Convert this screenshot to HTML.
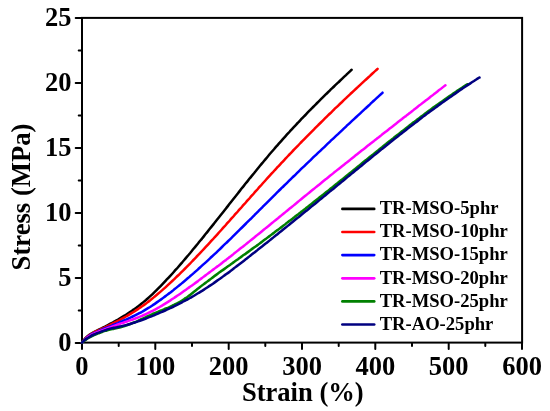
<!DOCTYPE html>
<html><head><meta charset="utf-8"><style>
html,body{margin:0;padding:0;background:#fff;width:550px;height:411px;overflow:hidden}
svg{display:block}
text{font-family:"Liberation Serif","Times New Roman",serif;font-weight:bold;fill:#000}
</style></head><body>
<svg width="550" height="411" viewBox="0 0 550 411">
<rect x="82.0" y="17.9" width="440.1" height="324.7" fill="none" stroke="#000" stroke-width="2"/>
<path d="M82.0,343.6v5.3 M118.7,343.6v2.3 M155.3,343.6v5.3 M192.0,343.6v2.3 M228.7,343.6v5.3 M265.3,343.6v2.3 M302.0,343.6v5.3 M338.7,343.6v2.3 M375.3,343.6v5.3 M412.0,343.6v2.3 M448.7,343.6v5.3 M485.3,343.6v2.3 M522.0,343.6v5.3 M81.0,343.0h-5.3 M81.0,310.5h-2.3 M81.0,278.0h-5.3 M81.0,245.5h-2.3 M81.0,213.0h-5.3 M81.0,180.5h-2.3 M81.0,148.0h-5.3 M81.0,115.5h-2.3 M81.0,83.0h-5.3 M81.0,50.5h-2.3 M81.0,18.0h-5.3" stroke="#000" stroke-width="2" stroke-linecap="round" fill="none"/>
<path d="M82.0,342.5 C82.7,341.7 84.7,339.1 86.0,337.7 C87.3,336.4 88.7,335.3 90.0,334.4 C91.3,333.4 92.7,332.7 94.0,332.0 C95.3,331.2 96.7,330.6 98.0,330.0 C99.3,329.3 100.7,328.7 102.0,328.1 C103.3,327.4 104.7,326.8 106.0,326.1 C107.3,325.4 108.7,324.7 110.0,323.9 C111.3,323.2 112.7,322.5 114.0,321.7 C115.3,321.0 116.7,320.2 118.0,319.5 C119.3,318.7 120.7,317.9 122.0,317.1 C123.3,316.3 124.7,315.5 126.0,314.7 C127.3,313.9 128.7,313.0 130.0,312.1 C131.3,311.2 132.7,310.3 134.0,309.4 C135.3,308.4 136.7,307.5 138.0,306.5 C139.3,305.5 140.7,304.4 142.0,303.3 C143.3,302.2 144.7,301.1 146.0,300.0 C147.3,298.8 148.7,297.6 150.0,296.4 C151.3,295.2 152.7,293.9 154.0,292.6 C155.3,291.4 156.7,290.1 158.0,288.7 C159.3,287.4 160.7,286.0 162.0,284.6 C163.3,283.3 164.7,281.9 166.0,280.4 C167.3,279.0 168.7,277.6 170.0,276.1 C171.3,274.7 172.7,273.2 174.0,271.7 C175.3,270.2 176.7,268.7 178.0,267.2 C179.3,265.7 180.7,264.1 182.0,262.6 C183.3,261.0 184.7,259.5 186.0,257.9 C187.3,256.3 188.7,254.7 190.0,253.2 C191.3,251.6 192.7,250.0 194.0,248.3 C195.3,246.7 196.7,245.1 198.0,243.5 C199.3,241.8 200.7,240.2 202.0,238.6 C203.3,236.9 204.7,235.3 206.0,233.6 C207.3,231.9 208.7,230.3 210.0,228.6 C211.3,226.9 212.7,225.2 214.0,223.6 C215.3,221.9 216.7,220.2 218.0,218.5 C219.3,216.8 220.7,215.2 222.0,213.5 C223.3,211.8 224.7,210.1 226.0,208.4 C227.3,206.7 228.7,205.0 230.0,203.3 C231.3,201.6 232.7,199.9 234.0,198.2 C235.3,196.5 236.7,194.9 238.0,193.2 C239.3,191.5 240.7,189.8 242.0,188.1 C243.3,186.4 244.7,184.8 246.0,183.1 C247.3,181.4 248.7,179.8 250.0,178.1 C251.3,176.5 252.7,174.8 254.0,173.2 C255.3,171.5 256.7,169.9 258.0,168.2 C259.3,166.6 260.7,165.0 262.0,163.4 C263.3,161.8 264.7,160.2 266.0,158.6 C267.3,157.0 268.7,155.4 270.0,153.8 C271.3,152.3 272.7,150.7 274.0,149.2 C275.3,147.6 276.7,146.1 278.0,144.6 C279.3,143.1 280.7,141.6 282.0,140.1 C283.3,138.6 284.7,137.1 286.0,135.6 C287.3,134.1 288.7,132.7 290.0,131.2 C291.3,129.8 292.7,128.3 294.0,126.9 C295.3,125.5 296.7,124.1 298.0,122.7 C299.3,121.2 300.7,119.8 302.0,118.4 C303.3,117.0 304.7,115.7 306.0,114.3 C307.3,112.9 308.7,111.5 310.0,110.2 C311.3,108.8 312.7,107.5 314.0,106.1 C315.3,104.8 316.7,103.5 318.0,102.1 C319.3,100.8 320.7,99.5 322.0,98.2 C323.3,96.9 324.7,95.5 326.0,94.2 C327.3,92.9 328.7,91.6 330.0,90.3 C331.3,89.0 332.7,87.8 334.0,86.5 C335.3,85.2 336.7,83.9 338.0,82.7 C339.3,81.4 340.7,80.1 342.0,78.8 C343.3,77.6 344.7,76.3 346.0,75.1 C347.3,73.8 349.1,72.2 350.0,71.3 C350.9,70.4 351.3,70.0 351.6,69.8" fill="none" stroke="#000000" stroke-width="2.5" stroke-linejoin="round" stroke-linecap="round"/>
<path d="M82.0,342.5 C82.7,341.7 84.7,339.3 86.0,338.0 C87.3,336.7 88.7,335.7 90.0,334.7 C91.3,333.8 92.7,333.1 94.0,332.4 C95.3,331.7 96.7,331.1 98.0,330.5 C99.3,329.9 100.7,329.3 102.0,328.7 C103.3,328.1 104.7,327.5 106.0,326.9 C107.3,326.2 108.7,325.6 110.0,324.9 C111.3,324.3 112.7,323.6 114.0,322.9 C115.3,322.2 116.7,321.6 118.0,320.9 C119.3,320.2 120.7,319.4 122.0,318.7 C123.3,318.0 124.7,317.2 126.0,316.5 C127.3,315.7 128.7,314.9 130.0,314.1 C131.3,313.3 132.7,312.5 134.0,311.7 C135.3,310.8 136.7,310.0 138.0,309.1 C139.3,308.2 140.7,307.3 142.0,306.3 C143.3,305.4 144.7,304.4 146.0,303.4 C147.3,302.4 148.7,301.4 150.0,300.4 C151.3,299.3 152.7,298.2 154.0,297.1 C155.3,296.0 156.7,294.9 158.0,293.8 C159.3,292.7 160.7,291.5 162.0,290.4 C163.3,289.2 164.7,288.0 166.0,286.8 C167.3,285.6 168.7,284.4 170.0,283.1 C171.3,281.9 172.7,280.6 174.0,279.4 C175.3,278.1 176.7,276.8 178.0,275.5 C179.3,274.2 180.7,272.9 182.0,271.6 C183.3,270.3 184.7,269.0 186.0,267.6 C187.3,266.3 188.7,264.9 190.0,263.6 C191.3,262.2 192.7,260.8 194.0,259.4 C195.3,258.0 196.7,256.6 198.0,255.2 C199.3,253.8 200.7,252.4 202.0,251.0 C203.3,249.6 204.7,248.1 206.0,246.7 C207.3,245.3 208.7,243.8 210.0,242.4 C211.3,240.9 212.7,239.5 214.0,238.0 C215.3,236.5 216.7,235.1 218.0,233.6 C219.3,232.1 220.7,230.6 222.0,229.2 C223.3,227.7 224.7,226.2 226.0,224.7 C227.3,223.2 228.7,221.7 230.0,220.2 C231.3,218.7 232.7,217.2 234.0,215.7 C235.3,214.2 236.7,212.7 238.0,211.2 C239.3,209.7 240.7,208.2 242.0,206.7 C243.3,205.2 244.7,203.7 246.0,202.2 C247.3,200.7 248.7,199.2 250.0,197.7 C251.3,196.2 252.7,194.7 254.0,193.2 C255.3,191.7 256.7,190.2 258.0,188.7 C259.3,187.2 260.7,185.7 262.0,184.2 C263.3,182.7 264.7,181.3 266.0,179.8 C267.3,178.3 268.7,176.8 270.0,175.4 C271.3,173.9 272.7,172.5 274.0,171.0 C275.3,169.5 276.7,168.1 278.0,166.7 C279.3,165.2 280.7,163.8 282.0,162.4 C283.3,160.9 284.7,159.5 286.0,158.1 C287.3,156.7 288.7,155.3 290.0,153.9 C291.3,152.5 292.7,151.1 294.0,149.7 C295.3,148.3 296.7,146.9 298.0,145.6 C299.3,144.2 300.7,142.8 302.0,141.4 C303.3,140.1 304.7,138.7 306.0,137.3 C307.3,136.0 308.7,134.6 310.0,133.3 C311.3,132.0 312.7,130.6 314.0,129.3 C315.3,127.9 316.7,126.6 318.0,125.3 C319.3,124.0 320.7,122.7 322.0,121.3 C323.3,120.0 324.7,118.7 326.0,117.4 C327.3,116.1 328.7,114.8 330.0,113.5 C331.3,112.2 332.7,110.9 334.0,109.6 C335.3,108.3 336.7,107.1 338.0,105.8 C339.3,104.5 340.7,103.2 342.0,102.0 C343.3,100.7 344.7,99.4 346.0,98.2 C347.3,96.9 348.7,95.6 350.0,94.4 C351.3,93.1 352.7,91.9 354.0,90.6 C355.3,89.4 356.7,88.1 358.0,86.9 C359.3,85.6 360.7,84.4 362.0,83.2 C363.3,81.9 364.7,80.7 366.0,79.5 C367.3,78.2 368.7,77.0 370.0,75.8 C371.3,74.5 372.7,73.3 374.0,72.1 C375.3,70.9 377.0,69.4 377.6,68.8" fill="none" stroke="#ff0000" stroke-width="2.5" stroke-linejoin="round" stroke-linecap="round"/>
<path d="M82.0,342.5 C82.7,341.8 84.7,339.6 86.0,338.4 C87.3,337.2 88.7,336.2 90.0,335.4 C91.3,334.5 92.7,333.8 94.0,333.1 C95.3,332.4 96.7,331.8 98.0,331.3 C99.3,330.7 100.7,330.2 102.0,329.6 C103.3,329.1 104.7,328.6 106.0,328.0 C107.3,327.5 108.7,326.9 110.0,326.4 C111.3,325.8 112.7,325.3 114.0,324.7 C115.3,324.2 116.7,323.6 118.0,323.1 C119.3,322.5 120.7,322.0 122.0,321.4 C123.3,320.8 124.7,320.2 126.0,319.6 C127.3,319.1 128.7,318.5 130.0,317.8 C131.3,317.2 132.7,316.6 134.0,315.9 C135.3,315.3 136.7,314.6 138.0,313.9 C139.3,313.2 140.7,312.5 142.0,311.8 C143.3,311.0 144.7,310.2 146.0,309.4 C147.3,308.6 148.7,307.8 150.0,307.0 C151.3,306.1 152.7,305.3 154.0,304.4 C155.3,303.5 156.7,302.6 158.0,301.6 C159.3,300.7 160.7,299.8 162.0,298.8 C163.3,297.8 164.7,296.8 166.0,295.8 C167.3,294.8 168.7,293.8 170.0,292.8 C171.3,291.7 172.7,290.7 174.0,289.6 C175.3,288.6 176.7,287.5 178.0,286.4 C179.3,285.3 180.7,284.2 182.0,283.1 C183.3,282.0 184.7,280.9 186.0,279.8 C187.3,278.6 188.7,277.5 190.0,276.3 C191.3,275.2 192.7,274.0 194.0,272.9 C195.3,271.7 196.7,270.5 198.0,269.3 C199.3,268.1 200.7,266.9 202.0,265.7 C203.3,264.5 204.7,263.3 206.0,262.1 C207.3,260.8 208.7,259.6 210.0,258.4 C211.3,257.1 212.7,255.9 214.0,254.6 C215.3,253.4 216.7,252.1 218.0,250.8 C219.3,249.6 220.7,248.3 222.0,247.0 C223.3,245.7 224.7,244.4 226.0,243.2 C227.3,241.9 228.7,240.6 230.0,239.3 C231.3,238.0 232.7,236.7 234.0,235.4 C235.3,234.1 236.7,232.7 238.0,231.4 C239.3,230.1 240.7,228.8 242.0,227.5 C243.3,226.2 244.7,224.8 246.0,223.5 C247.3,222.2 248.7,220.9 250.0,219.5 C251.3,218.2 252.7,216.9 254.0,215.6 C255.3,214.2 256.7,212.9 258.0,211.6 C259.3,210.2 260.7,208.9 262.0,207.6 C263.3,206.2 264.7,204.9 266.0,203.6 C267.3,202.3 268.7,200.9 270.0,199.6 C271.3,198.3 272.7,196.9 274.0,195.6 C275.3,194.3 276.7,193.0 278.0,191.7 C279.3,190.3 280.7,189.0 282.0,187.7 C283.3,186.4 284.7,185.1 286.0,183.8 C287.3,182.5 288.7,181.2 290.0,179.9 C291.3,178.6 292.7,177.3 294.0,176.0 C295.3,174.7 296.7,173.4 298.0,172.1 C299.3,170.8 300.7,169.5 302.0,168.2 C303.3,167.0 304.7,165.7 306.0,164.4 C307.3,163.1 308.7,161.8 310.0,160.6 C311.3,159.3 312.7,158.0 314.0,156.7 C315.3,155.5 316.7,154.2 318.0,152.9 C319.3,151.7 320.7,150.4 322.0,149.1 C323.3,147.9 324.7,146.6 326.0,145.3 C327.3,144.1 328.7,142.8 330.0,141.6 C331.3,140.3 332.7,139.1 334.0,137.8 C335.3,136.6 336.7,135.3 338.0,134.1 C339.3,132.8 340.7,131.5 342.0,130.3 C343.3,129.1 344.7,127.8 346.0,126.6 C347.3,125.3 348.7,124.1 350.0,122.8 C351.3,121.6 352.7,120.3 354.0,119.1 C355.3,117.9 356.7,116.6 358.0,115.4 C359.3,114.2 360.7,112.9 362.0,111.7 C363.3,110.4 364.7,109.2 366.0,108.0 C367.3,106.7 368.7,105.5 370.0,104.3 C371.3,103.0 372.7,101.8 374.0,100.5 C375.3,99.3 376.7,98.1 378.0,96.8 C379.3,95.6 381.2,93.8 382.0,93.2 C382.8,92.5 382.4,92.8 382.5,92.7" fill="none" stroke="#0000ff" stroke-width="2.5" stroke-linejoin="round" stroke-linecap="round"/>
<path d="M82.0,342.5 C82.7,341.9 84.7,339.8 86.0,338.7 C87.3,337.5 88.7,336.6 90.0,335.8 C91.3,335.0 92.7,334.3 94.0,333.7 C95.3,333.0 96.7,332.5 98.0,332.0 C99.3,331.4 100.7,331.0 102.0,330.5 C103.3,330.0 104.7,329.5 106.0,329.0 C107.3,328.4 108.7,327.9 110.0,327.4 C111.3,326.9 112.7,326.4 114.0,325.9 C115.3,325.4 116.7,325.0 118.0,324.5 C119.3,324.0 120.7,323.6 122.0,323.1 C123.3,322.7 124.7,322.2 126.0,321.8 C127.3,321.3 128.7,320.9 130.0,320.4 C131.3,320.0 132.7,319.5 134.0,319.0 C135.3,318.5 136.7,318.0 138.0,317.5 C139.3,317.0 140.7,316.5 142.0,315.9 C143.3,315.3 144.7,314.7 146.0,314.1 C147.3,313.5 148.7,312.9 150.0,312.2 C151.3,311.5 152.7,310.8 154.0,310.1 C155.3,309.4 156.7,308.7 158.0,307.9 C159.3,307.1 160.7,306.4 162.0,305.6 C163.3,304.8 164.7,304.0 166.0,303.1 C167.3,302.3 168.7,301.4 170.0,300.6 C171.3,299.7 172.7,298.8 174.0,298.0 C175.3,297.1 176.7,296.2 178.0,295.3 C179.3,294.4 180.7,293.4 182.0,292.5 C183.3,291.6 184.7,290.6 186.0,289.7 C187.3,288.7 188.7,287.8 190.0,286.8 C191.3,285.9 192.7,284.9 194.0,284.0 C195.3,283.0 196.7,282.0 198.0,281.1 C199.3,280.1 200.7,279.1 202.0,278.1 C203.3,277.1 204.7,276.1 206.0,275.1 C207.3,274.1 208.7,273.1 210.0,272.1 C211.3,271.1 212.7,270.1 214.0,269.1 C215.3,268.1 216.7,267.1 218.0,266.1 C219.3,265.0 220.7,264.0 222.0,263.0 C223.3,261.9 224.7,260.9 226.0,259.9 C227.3,258.8 228.7,257.8 230.0,256.8 C231.3,255.7 232.7,254.7 234.0,253.6 C235.3,252.6 236.7,251.5 238.0,250.4 C239.3,249.4 240.7,248.3 242.0,247.3 C243.3,246.2 244.7,245.2 246.0,244.1 C247.3,243.0 248.7,242.0 250.0,240.9 C251.3,239.8 252.7,238.7 254.0,237.7 C255.3,236.6 256.7,235.5 258.0,234.4 C259.3,233.4 260.7,232.3 262.0,231.2 C263.3,230.1 264.7,229.0 266.0,227.9 C267.3,226.9 268.7,225.8 270.0,224.7 C271.3,223.6 272.7,222.5 274.0,221.4 C275.3,220.3 276.7,219.2 278.0,218.2 C279.3,217.1 280.7,216.0 282.0,214.9 C283.3,213.8 284.7,212.7 286.0,211.6 C287.3,210.5 288.7,209.4 290.0,208.3 C291.3,207.2 292.7,206.2 294.0,205.1 C295.3,204.0 296.7,202.9 298.0,201.8 C299.3,200.7 300.7,199.6 302.0,198.5 C303.3,197.4 304.7,196.3 306.0,195.3 C307.3,194.2 308.7,193.1 310.0,192.0 C311.3,190.9 312.7,189.8 314.0,188.8 C315.3,187.7 316.7,186.6 318.0,185.5 C319.3,184.4 320.7,183.4 322.0,182.3 C323.3,181.2 324.7,180.1 326.0,179.1 C327.3,178.0 328.7,176.9 330.0,175.8 C331.3,174.8 332.7,173.7 334.0,172.6 C335.3,171.6 336.7,170.5 338.0,169.4 C339.3,168.4 340.7,167.3 342.0,166.2 C343.3,165.2 344.7,164.1 346.0,163.1 C347.3,162.0 348.7,160.9 350.0,159.9 C351.3,158.8 352.7,157.7 354.0,156.7 C355.3,155.6 356.7,154.6 358.0,153.5 C359.3,152.5 360.7,151.4 362.0,150.3 C363.3,149.3 364.7,148.3 366.0,147.2 C367.3,146.1 368.7,145.1 370.0,144.0 C371.3,143.0 372.7,141.9 374.0,140.9 C375.3,139.8 376.7,138.8 378.0,137.8 C379.3,136.7 380.7,135.7 382.0,134.6 C383.3,133.6 384.7,132.5 386.0,131.5 C387.3,130.4 388.7,129.4 390.0,128.3 C391.3,127.3 392.7,126.3 394.0,125.2 C395.3,124.2 396.7,123.1 398.0,122.1 C399.3,121.1 400.7,120.0 402.0,119.0 C403.3,117.9 404.7,116.9 406.0,115.9 C407.3,114.8 408.7,113.8 410.0,112.8 C411.3,111.7 412.7,110.7 414.0,109.6 C415.3,108.6 416.7,107.6 418.0,106.5 C419.3,105.5 420.7,104.5 422.0,103.4 C423.3,102.4 424.7,101.4 426.0,100.3 C427.3,99.3 428.7,98.3 430.0,97.2 C431.3,96.2 432.7,95.2 434.0,94.1 C435.3,93.1 436.7,92.1 438.0,91.0 C439.3,90.0 440.8,88.9 442.0,87.9 C443.2,87.0 444.8,85.7 445.4,85.3" fill="none" stroke="#ff00ff" stroke-width="2.5" stroke-linejoin="round" stroke-linecap="round"/>
<path d="M82.0,342.5 C82.7,342.0 84.7,340.5 86.0,339.6 C87.3,338.7 88.7,337.9 90.0,337.1 C91.3,336.4 92.7,335.7 94.0,335.1 C95.3,334.5 96.7,334.0 98.0,333.4 C99.3,332.9 100.7,332.5 102.0,332.0 C103.3,331.5 104.7,331.1 106.0,330.7 C107.3,330.3 108.7,329.9 110.0,329.6 C111.3,329.2 112.7,329.0 114.0,328.7 C115.3,328.4 116.7,328.2 118.0,327.9 C119.3,327.6 120.7,327.3 122.0,326.9 C123.3,326.5 124.7,326.1 126.0,325.6 C127.3,325.2 128.7,324.7 130.0,324.1 C131.3,323.6 132.7,323.1 134.0,322.5 C135.3,322.0 136.7,321.4 138.0,320.8 C139.3,320.2 140.7,319.6 142.0,319.0 C143.3,318.3 144.7,317.7 146.0,317.1 C147.3,316.5 148.7,315.9 150.0,315.3 C151.3,314.7 152.7,314.1 154.0,313.5 C155.3,312.9 156.7,312.4 158.0,311.8 C159.3,311.2 160.7,310.7 162.0,310.2 C163.3,309.6 164.7,309.1 166.0,308.5 C167.3,308.0 168.7,307.4 170.0,306.8 C171.3,306.2 172.7,305.6 174.0,305.0 C175.3,304.3 176.7,303.6 178.0,302.9 C179.3,302.2 180.7,301.4 182.0,300.6 C183.3,299.7 184.7,298.8 186.0,297.9 C187.3,296.9 188.7,295.9 190.0,294.9 C191.3,293.9 192.7,292.8 194.0,291.7 C195.3,290.7 196.7,289.6 198.0,288.6 C199.3,287.5 200.7,286.5 202.0,285.4 C203.3,284.4 204.7,283.4 206.0,282.4 C207.3,281.4 208.7,280.4 210.0,279.4 C211.3,278.4 212.7,277.4 214.0,276.4 C215.3,275.5 216.7,274.5 218.0,273.5 C219.3,272.5 220.7,271.6 222.0,270.6 C223.3,269.7 224.7,268.7 226.0,267.7 C227.3,266.8 228.7,265.8 230.0,264.9 C231.3,263.9 232.7,263.0 234.0,262.0 C235.3,261.1 236.7,260.1 238.0,259.2 C239.3,258.2 240.7,257.3 242.0,256.3 C243.3,255.3 244.7,254.4 246.0,253.4 C247.3,252.5 248.7,251.5 250.0,250.5 C251.3,249.6 252.7,248.6 254.0,247.6 C255.3,246.6 256.7,245.7 258.0,244.7 C259.3,243.7 260.7,242.7 262.0,241.7 C263.3,240.7 264.7,239.7 266.0,238.8 C267.3,237.8 268.7,236.8 270.0,235.8 C271.3,234.8 272.7,233.8 274.0,232.8 C275.3,231.7 276.7,230.7 278.0,229.7 C279.3,228.7 280.7,227.7 282.0,226.7 C283.3,225.7 284.7,224.7 286.0,223.6 C287.3,222.6 288.7,221.6 290.0,220.6 C291.3,219.5 292.7,218.5 294.0,217.5 C295.3,216.4 296.7,215.4 298.0,214.4 C299.3,213.3 300.7,212.3 302.0,211.3 C303.3,210.2 304.7,209.2 306.0,208.1 C307.3,207.1 308.7,206.1 310.0,205.0 C311.3,203.9 312.7,202.9 314.0,201.8 C315.3,200.8 316.7,199.7 318.0,198.7 C319.3,197.6 320.7,196.6 322.0,195.5 C323.3,194.4 324.7,193.4 326.0,192.3 C327.3,191.3 328.7,190.2 330.0,189.1 C331.3,188.1 332.7,187.0 334.0,185.9 C335.3,184.8 336.7,183.8 338.0,182.7 C339.3,181.6 340.7,180.5 342.0,179.5 C343.3,178.4 344.7,177.3 346.0,176.2 C347.3,175.2 348.7,174.1 350.0,173.0 C351.3,171.9 352.7,170.9 354.0,169.8 C355.3,168.7 356.7,167.6 358.0,166.5 C359.3,165.4 360.7,164.4 362.0,163.3 C363.3,162.2 364.7,161.1 366.0,160.1 C367.3,159.0 368.7,157.9 370.0,156.8 C371.3,155.7 372.7,154.7 374.0,153.6 C375.3,152.5 376.7,151.4 378.0,150.4 C379.3,149.3 380.7,148.2 382.0,147.2 C383.3,146.1 384.7,145.0 386.0,144.0 C387.3,142.9 388.7,141.8 390.0,140.8 C391.3,139.7 392.7,138.7 394.0,137.6 C395.3,136.6 396.7,135.5 398.0,134.5 C399.3,133.4 400.7,132.4 402.0,131.3 C403.3,130.3 404.7,129.3 406.0,128.2 C407.3,127.2 408.7,126.1 410.0,125.1 C411.3,124.1 412.7,123.1 414.0,122.1 C415.3,121.0 416.7,120.0 418.0,119.0 C419.3,118.0 420.7,117.0 422.0,116.0 C423.3,115.0 424.7,114.0 426.0,113.0 C427.3,112.0 428.7,111.0 430.0,110.1 C431.3,109.1 432.7,108.1 434.0,107.1 C435.3,106.2 436.7,105.2 438.0,104.2 C439.3,103.3 440.7,102.3 442.0,101.4 C443.3,100.5 444.7,99.5 446.0,98.6 C447.3,97.6 448.7,96.7 450.0,95.8 C451.3,94.9 452.7,94.0 454.0,93.1 C455.3,92.2 456.7,91.3 458.0,90.4 C459.3,89.5 460.7,88.6 462.0,87.7 C463.3,86.9 465.1,85.7 466.0,85.2 C466.9,84.6 467.2,84.3 467.5,84.2" fill="none" stroke="#008000" stroke-width="2.5" stroke-linejoin="round" stroke-linecap="round"/>
<path d="M82.0,342.5 C82.7,341.9 84.7,340.1 86.0,339.1 C87.3,338.2 88.7,337.3 90.0,336.6 C91.3,335.8 92.7,335.1 94.0,334.5 C95.3,333.9 96.7,333.4 98.0,332.8 C99.3,332.3 100.7,331.9 102.0,331.4 C103.3,330.9 104.7,330.4 106.0,330.0 C107.3,329.5 108.7,329.1 110.0,328.7 C111.3,328.4 112.7,328.1 114.0,327.8 C115.3,327.5 116.7,327.3 118.0,327.0 C119.3,326.7 120.7,326.4 122.0,326.1 C123.3,325.8 124.7,325.5 126.0,325.1 C127.3,324.8 128.7,324.4 130.0,324.0 C131.3,323.6 132.7,323.2 134.0,322.7 C135.3,322.3 136.7,321.9 138.0,321.4 C139.3,321.0 140.7,320.5 142.0,320.0 C143.3,319.5 144.7,319.0 146.0,318.5 C147.3,318.0 148.7,317.4 150.0,316.9 C151.3,316.4 152.7,315.8 154.0,315.3 C155.3,314.7 156.7,314.1 158.0,313.6 C159.3,313.0 160.7,312.4 162.0,311.9 C163.3,311.3 164.7,310.7 166.0,310.1 C167.3,309.5 168.7,308.8 170.0,308.2 C171.3,307.6 172.7,307.0 174.0,306.3 C175.3,305.7 176.7,305.0 178.0,304.3 C179.3,303.7 180.7,303.0 182.0,302.3 C183.3,301.6 184.7,300.9 186.0,300.2 C187.3,299.5 188.7,298.7 190.0,298.0 C191.3,297.2 192.7,296.5 194.0,295.7 C195.3,294.9 196.7,294.1 198.0,293.3 C199.3,292.5 200.7,291.7 202.0,290.9 C203.3,290.0 204.7,289.2 206.0,288.3 C207.3,287.4 208.7,286.5 210.0,285.6 C211.3,284.8 212.7,283.9 214.0,282.9 C215.3,282.0 216.7,281.1 218.0,280.1 C219.3,279.2 220.7,278.2 222.0,277.3 C223.3,276.3 224.7,275.3 226.0,274.3 C227.3,273.4 228.7,272.4 230.0,271.4 C231.3,270.4 232.7,269.4 234.0,268.3 C235.3,267.3 236.7,266.3 238.0,265.3 C239.3,264.3 240.7,263.2 242.0,262.2 C243.3,261.2 244.7,260.1 246.0,259.1 C247.3,258.0 248.7,257.0 250.0,255.9 C251.3,254.9 252.7,253.8 254.0,252.8 C255.3,251.7 256.7,250.7 258.0,249.6 C259.3,248.6 260.7,247.5 262.0,246.5 C263.3,245.4 264.7,244.3 266.0,243.3 C267.3,242.2 268.7,241.2 270.0,240.1 C271.3,239.0 272.7,238.0 274.0,236.9 C275.3,235.8 276.7,234.8 278.0,233.7 C279.3,232.6 280.7,231.6 282.0,230.5 C283.3,229.4 284.7,228.3 286.0,227.3 C287.3,226.2 288.7,225.1 290.0,224.0 C291.3,223.0 292.7,221.9 294.0,220.8 C295.3,219.7 296.7,218.6 298.0,217.6 C299.3,216.5 300.7,215.4 302.0,214.3 C303.3,213.2 304.7,212.1 306.0,211.1 C307.3,210.0 308.7,208.9 310.0,207.8 C311.3,206.7 312.7,205.6 314.0,204.5 C315.3,203.4 316.7,202.4 318.0,201.3 C319.3,200.2 320.7,199.1 322.0,198.0 C323.3,196.9 324.7,195.8 326.0,194.7 C327.3,193.6 328.7,192.5 330.0,191.4 C331.3,190.3 332.7,189.3 334.0,188.2 C335.3,187.1 336.7,186.0 338.0,184.9 C339.3,183.8 340.7,182.7 342.0,181.6 C343.3,180.5 344.7,179.4 346.0,178.3 C347.3,177.2 348.7,176.1 350.0,175.0 C351.3,173.9 352.7,172.8 354.0,171.7 C355.3,170.6 356.7,169.6 358.0,168.5 C359.3,167.4 360.7,166.3 362.0,165.2 C363.3,164.1 364.7,163.0 366.0,161.9 C367.3,160.8 368.7,159.7 370.0,158.7 C371.3,157.6 372.7,156.5 374.0,155.4 C375.3,154.3 376.7,153.2 378.0,152.2 C379.3,151.1 380.7,150.0 382.0,148.9 C383.3,147.9 384.7,146.8 386.0,145.7 C387.3,144.7 388.7,143.6 390.0,142.5 C391.3,141.5 392.7,140.4 394.0,139.3 C395.3,138.3 396.7,137.2 398.0,136.2 C399.3,135.1 400.7,134.1 402.0,133.0 C403.3,132.0 404.7,130.9 406.0,129.9 C407.3,128.9 408.7,127.8 410.0,126.8 C411.3,125.8 412.7,124.7 414.0,123.7 C415.3,122.7 416.7,121.7 418.0,120.7 C419.3,119.6 420.7,118.6 422.0,117.6 C423.3,116.6 424.7,115.6 426.0,114.6 C427.3,113.6 428.7,112.6 430.0,111.6 C431.3,110.6 432.7,109.6 434.0,108.7 C435.3,107.7 436.7,106.7 438.0,105.7 C439.3,104.8 440.7,103.8 442.0,102.8 C443.3,101.9 444.7,100.9 446.0,100.0 C447.3,99.0 448.7,98.1 450.0,97.2 C451.3,96.2 452.7,95.3 454.0,94.4 C455.3,93.4 456.7,92.5 458.0,91.6 C459.3,90.7 460.7,89.8 462.0,88.9 C463.3,88.0 464.7,87.1 466.0,86.2 C467.3,85.3 468.7,84.5 470.0,83.6 C471.3,82.7 472.7,81.8 474.0,81.0 C475.3,80.1 477.1,79.0 478.0,78.4 C478.9,77.9 479.2,77.6 479.5,77.5" fill="none" stroke="#000080" stroke-width="2.5" stroke-linejoin="round" stroke-linecap="round"/>
<text transform="translate(82.0,374.8) scale(1,1.06)" text-anchor="middle" font-size="26.5">0</text>
<text transform="translate(155.3,374.8) scale(1,1.06)" text-anchor="middle" font-size="26.5">100</text>
<text transform="translate(228.7,374.8) scale(1,1.06)" text-anchor="middle" font-size="26.5">200</text>
<text transform="translate(302.0,374.8) scale(1,1.06)" text-anchor="middle" font-size="26.5">300</text>
<text transform="translate(375.3,374.8) scale(1,1.06)" text-anchor="middle" font-size="26.5">400</text>
<text transform="translate(448.7,374.8) scale(1,1.06)" text-anchor="middle" font-size="26.5">500</text>
<text transform="translate(522.0,374.8) scale(1,1.06)" text-anchor="middle" font-size="26.5">600</text>
<text transform="translate(71.4,350.6) scale(1,1.06)" text-anchor="end" font-size="26.5">0</text>
<text transform="translate(71.4,285.6) scale(1,1.06)" text-anchor="end" font-size="26.5">5</text>
<text transform="translate(71.4,220.6) scale(1,1.06)" text-anchor="end" font-size="26.5">10</text>
<text transform="translate(71.4,155.6) scale(1,1.06)" text-anchor="end" font-size="26.5">15</text>
<text transform="translate(71.4,90.6) scale(1,1.06)" text-anchor="end" font-size="26.5">20</text>
<text transform="translate(71.4,25.6) scale(1,1.06)" text-anchor="end" font-size="26.5">25</text>
<text transform="translate(302.8,400.6) scale(1,1.06)" text-anchor="middle" font-size="26.6">Strain (%)</text>
<text transform="translate(29.9,197) rotate(-90) scale(1.01,1)" text-anchor="middle" font-size="26.4">Stress (MPa)</text>
<path d="M342.4,208.9H374.2" stroke="#000000" stroke-width="2.7" stroke-linecap="round"/>
<text transform="translate(379.7,214.1) scale(1,1.05)" font-size="18.6">TR-MSO-5phr</text>
<path d="M342.4,232.0H374.2" stroke="#ff0000" stroke-width="2.7" stroke-linecap="round"/>
<text transform="translate(379.7,237.2) scale(1,1.05)" font-size="18.6">TR-MSO-10phr</text>
<path d="M342.4,255.1H374.2" stroke="#0000ff" stroke-width="2.7" stroke-linecap="round"/>
<text transform="translate(379.7,260.3) scale(1,1.05)" font-size="18.6">TR-MSO-15phr</text>
<path d="M342.4,278.3H374.2" stroke="#ff00ff" stroke-width="2.7" stroke-linecap="round"/>
<text transform="translate(379.7,283.5) scale(1,1.05)" font-size="18.6">TR-MSO-20phr</text>
<path d="M342.4,301.4H374.2" stroke="#008000" stroke-width="2.7" stroke-linecap="round"/>
<text transform="translate(379.7,306.6) scale(1,1.05)" font-size="18.6">TR-MSO-25phr</text>
<path d="M342.4,324.5H374.2" stroke="#000080" stroke-width="2.7" stroke-linecap="round"/>
<text transform="translate(379.7,329.7) scale(1,1.05)" font-size="18.6">TR-AO-25phr</text>
</svg>
</body></html>
